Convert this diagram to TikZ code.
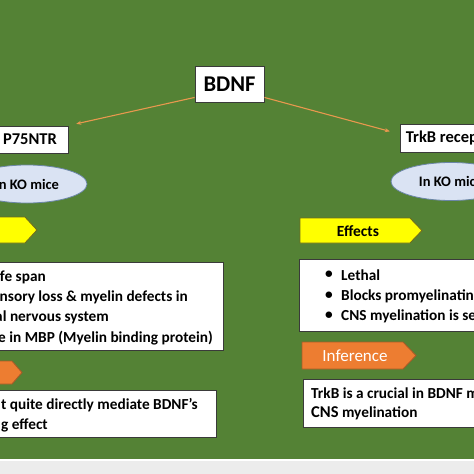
\documentclass[tikz,border=0pt]{standalone}
\usepackage{fontspec}
\setmainfont{Carlito}
\usetikzlibrary{calc,shapes.geometric,arrows.meta}
\definecolor{bggreen}{HTML}{548235}
\definecolor{stripgray}{HTML}{ECECEC}
\definecolor{boxline}{HTML}{3A3A3A}
\definecolor{ellfill}{HTML}{DAE3F3}
\definecolor{elldraw}{HTML}{6B86A8}
\definecolor{tagyellow}{HTML}{FFFF00}
\definecolor{tagyellowdraw}{HTML}{6E6E1E}
\definecolor{tagorange}{HTML}{ED7D31}
\definecolor{tagorangedraw}{HTML}{A65B28}
\definecolor{arrcol}{HTML}{E8984E}
\tikzset{
  whitebox/.style={draw=boxline, fill=white, line width=0.9pt, rectangle, inner sep=0pt},
  koell/.style={ellipse, draw=elldraw, fill=ellfill, line width=0.8pt, inner sep=0pt,
    minimum width=120pt, minimum height=38pt, font=\fontsize{14.5}{17}\selectfont\bfseries},
  bodytxt/.style={inner sep=0pt, font=\fontsize{15.3}{18}\selectfont\bfseries},
  labtxt/.style={inner sep=0pt, font=\fontsize{16.5}{19}\selectfont\bfseries},
  ytag/.style={fill=tagyellow, draw=tagyellowdraw, line width=0.9pt},
  otag/.style={fill=tagorange, draw=tagorangedraw, line width=0.9pt},
  conn/.style={draw=arrcol, line width=1.1pt, -{Stealth[length=5pt,width=4pt]}}
}
\begin{document}
\begin{tikzpicture}[x=1pt,y=-1pt]
\useasboundingbox (0,0) rectangle (474,474);
\clip (0,0) rectangle (474,474);
\fill[bggreen] (0,0) rectangle (474,459);
\fill[white] (0,459) rectangle (474,461);
\fill[stripgray] (0,461) rectangle (474,474);

% top boxes
\node[whitebox, minimum width=69pt, minimum height=36pt, font=\fontsize{22.5}{26}\selectfont\bfseries] (bdnf) at (229.5,84) {BDNF};
\node[whitebox, minimum width=76pt, minimum height=27pt, labtxt] (p75) at (30,139.5) {P75NTR};
\node[whitebox, minimum width=104pt, minimum height=28pt, labtxt] (trkb) at (452,138) {TrkB receptor};

% connectors
\draw[conn, shorten >=8pt] ($(bdnf.south west)+(0,-5)$) -- (p75.north east);
\draw[conn, shorten >=10pt] ($(bdnf.south east)+(0,-5)$) -- ($(trkb.west)+(0,-4)$);

% ellipses
\node[koell] (kol) at (27,184) {In KO mice};
\node[koell] (kor) at (451,181.5) {In KO mice};

% effects tags
\path[ytag] (-85,217) -- (25,217) -- (37,230) -- (25,243) -- (-85,243) -- cycle;
\path[ytag] (300,218) -- (410,218) -- (422,230.5) -- (410,243) -- (300,243) -- cycle;
\node[inner sep=0pt, font=\fontsize{15.5}{18}\selectfont\bfseries] (effr) at (358,231) {Effects};

% effects boxes
\node[whitebox, minimum width=243pt, minimum height=88pt] (effboxl) at (101.5,306) {};
\node[whitebox, minimum width=200pt, minimum height=72pt] (effboxr) at (399,295) {};

\node[bodytxt, anchor=east] (l1) at (46,277) {fe span};
\node[bodytxt, anchor=east] (l2) at (188,297) {ensory loss \& myelin defects in};
\node[bodytxt, anchor=east] (l3) at (109,317) {al nervous system};
\node[bodytxt, anchor=east] (l4) at (213,338) {e in MBP (Myelin binding protein)};

\node[bodytxt] (b1) at (329,275) {\textbullet};
\node[bodytxt] (b2) at (329,296) {\textbullet};
\node[bodytxt] (b3) at (329,316) {\textbullet};
\node[bodytxt, anchor=west] (r1) at (341,275) {Lethal};
\node[bodytxt, anchor=west] (r2) at (341,296) {Blocks promyelinating};
\node[bodytxt, anchor=west] (r3) at (341,316) {CNS myelination is se};

% inference tags
\path[otag] (-90,361) -- (12,361) -- (22,372.5) -- (12,384) -- (-90,384) -- cycle;
\path[otag] (302,342) -- (403,342) -- (416,355.5) -- (403,369) -- (302,369) -- cycle;
\node[inner sep=0pt, text=white, font=\fontsize{17}{20}\selectfont] (infr) at (355,356) {Inference};

% inference boxes
\node[whitebox, minimum width=236pt, minimum height=47pt] (infboxl) at (98,413.5) {};
\node[whitebox, minimum width=200pt, minimum height=48pt] (infboxr) at (403,403) {};

\node[bodytxt, anchor=east] (i1) at (198,405) {t quite directly mediate BDNF's};
\node[bodytxt, anchor=east] (i2) at (48,425) {g effect};
\node[bodytxt, anchor=west] (j1) at (311,393) {TrkB is a crucial in BDNF m};
\node[bodytxt, anchor=west] (j2) at (311,413) {{\fontsize{16.5}{19}\selectfont CNS} myelination};
\end{tikzpicture}
\end{document}
